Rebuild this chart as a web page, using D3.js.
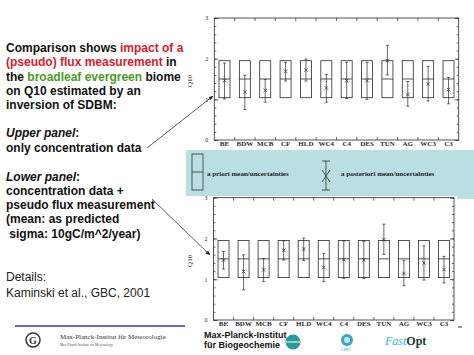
<!DOCTYPE html>
<html>
<head>
<meta charset="utf-8">
<script src="https://cdn.jsdelivr.net/npm/d3@7"></script>
<style>
  body { margin: 0; background: #fff; }
  svg { display: block; }
</style>
</head>
<body>
<div id="chart"></div>
<script>
// biome categories on the x axis
const biomes = ["BE", "BDW", "MCB", "CF", "HLD", "WC4", "C4", "DES", "TUN", "AG", "WC3", "C3"];

// a priori Q10 (same for every biome)
const priorMean = [1.5, 1.5, 1.5, 1.5, 1.5, 1.5, 1.5, 1.5, 1.5, 1.5, 1.5, 1.5];
const priorLo   = [1.04, 1.04, 1.04, 1.04, 1.04, 1.04, 1.04, 1.04, 1.04, 1.04, 1.04, 1.04];
const priorHi   = [1.95, 1.95, 1.95, 1.95, 1.95, 1.95, 1.95, 1.95, 1.95, 1.95, 1.95, 1.95];

// a posteriori, upper panel (concentration data only)
const upperMean = [1.46, 1.18, 1.22, 1.69, 1.72, 1.28, 1.46, 1.46, 1.95, 1.12, 1.38, 1.24];
const upperLo   = [1.01, 0.75, 0.93, 1.45, 1.45, 0.93, 1.02, 1.00, 1.60, 0.83, 0.96, 0.89];
const upperHi   = [1.89, 1.59, 1.49, 1.91, 1.99, 1.61, 1.91, 1.91, 2.33, 1.44, 1.81, 1.54];

// a posteriori, lower panel (with pseudo flux measurement)
const lowerMean = [1.47, 1.19, 1.23, 1.71, 1.74, 1.29, 1.48, 1.47, 1.97, 1.14, 1.40, 1.24];
const lowerLo   = [1.25, 0.74, 0.94, 1.47, 1.46, 0.94, 1.02, 1.02, 1.61, 0.84, 0.98, 0.91];
const lowerHi   = [1.68, 1.60, 1.51, 1.94, 2.01, 1.63, 1.94, 1.93, 2.35, 1.46, 1.82, 1.56];

const yTicks = [0, 1, 2, 3];
const yDomain = [0, 3];

const width = 474, height = 355;

const svg = d3.select("#chart").append("svg")
    .attr("width", width)
    .attr("height", height)
    .attr("viewBox", [0, 0, width, height]);

const ink = "#2a2a2a";
const serif = "'Liberation Serif', 'DejaVu Serif', serif";
const sans = "'Liberation Sans', Arial, sans-serif";

// legend band (light blue strip between the panels)
svg.append("rect")
    .attr("x", 186).attr("y", 150)
    .attr("width", width - 186).attr("height", 49)
    .attr("fill", "#b9dfe2");

// white background of the lower panel picture
svg.append("rect")
    .attr("x", 186).attr("y", 196)
    .attr("width", 271).attr("height", 134)
    .attr("fill", "#fff");

function drawPanel(box, mean, lo, hi) {
    const g = svg.append("g");

    const x = d3.scaleBand()
        .domain(biomes)
        .range([box.left, box.right]);

    const y = d3.scaleLinear()
        .domain(yDomain)
        .range([box.bottom, box.top]);

    // frame
    g.append("rect")
        .attr("x", box.left).attr("y", box.top)
        .attr("width", box.right - box.left)
        .attr("height", box.bottom - box.top)
        .attr("fill", "none")
        .attr("stroke", ink)
        .attr("stroke-width", 0.8);

    // minor ticks left + right
    const minor = d3.range(0, 3.001, 0.2);
    g.append("g")
        .attr("transform", `translate(${box.left},0)`)
        .call(d3.axisLeft(y).tickValues(minor).tickSize(-2).tickFormat(""))
        .call(a => a.select(".domain").remove());
    g.append("g")
        .attr("transform", `translate(${box.right},0)`)
        .call(d3.axisRight(y).tickValues(minor).tickSize(-2).tickFormat(""))
        .call(a => a.select(".domain").remove());

    // major ticks + labels
    g.append("g")
        .attr("transform", `translate(${box.left},0)`)
        .call(d3.axisLeft(y).tickValues(yTicks).tickSize(-4).tickPadding(6).tickFormat(d3.format("d")))
        .call(a => a.select(".domain").remove())
        .call(a => a.selectAll("text").attr("font-family", serif).attr("font-size", 6).attr("fill", ink));
    g.append("g")
        .attr("transform", `translate(${box.right},0)`)
        .call(d3.axisRight(y).tickValues(yTicks).tickSize(-4).tickFormat(""))
        .call(a => a.select(".domain").remove());

    g.selectAll(".tick line").attr("stroke", ink).attr("stroke-width", 0.7);

    // x ticks at band boundaries (top and bottom, inward)
    const bounds = biomes.slice(1).map(d => x(d));
    g.selectAll(".xt-b").data(bounds).join("line")
        .attr("x1", d => d).attr("x2", d => d)
        .attr("y1", box.bottom).attr("y2", box.bottom - 3)
        .attr("stroke", ink).attr("stroke-width", 0.7);
    g.selectAll(".xt-t").data(bounds).join("line")
        .attr("x1", d => d).attr("x2", d => d)
        .attr("y1", box.top).attr("y2", box.top + 3)
        .attr("stroke", ink).attr("stroke-width", 0.7);

    // x labels
    g.append("g")
        .attr("transform", `translate(0,${box.bottom})`)
        .call(d3.axisBottom(x).tickSize(0).tickPadding(1.5))
        .call(a => a.select(".domain").remove())
        .call(a => a.selectAll("text")
            .attr("font-family", serif).attr("font-size", 7)
            .attr("font-weight", "bold").attr("fill", ink));

    // Q10 label
    g.append("text")
        .attr("transform", `translate(${box.left - 22},${(box.top + box.bottom) / 2 + 2}) rotate(-90)`)
        .attr("text-anchor", "middle")
        .attr("font-family", serif).attr("font-size", 7)
        .attr("fill", ink)
        .text("Q10");

    const bw = 11;
    const rows = biomes.map((b, i) => ({b, pm: priorMean[i], plo: priorLo[i], phi: priorHi[i],
        m: mean[i], lo: lo[i], hi: hi[i]}));

    const item = g.selectAll(".biome").data(rows).join("g")
        .attr("class", "biome")
        .attr("transform", d => `translate(${x(d.b) + x.bandwidth() / 2},0)`);

    // a priori boxes
    item.append("rect")
        .attr("x", -bw / 2).attr("width", bw)
        .attr("y", d => y(d.phi))
        .attr("height", d => y(d.plo) - y(d.phi))
        .attr("fill", "none").attr("stroke", ink).attr("stroke-width", 0.8);
    item.append("line")
        .attr("x1", -bw / 2).attr("x2", bw / 2)
        .attr("y1", d => y(d.pm)).attr("y2", d => y(d.pm))
        .attr("stroke", ink).attr("stroke-width", 0.8);

    // a posteriori error bars
    item.append("line")
        .attr("y1", d => y(d.lo)).attr("y2", d => y(d.hi))
        .attr("stroke", ink).attr("stroke-width", 0.7);
    item.append("line")
        .attr("x1", -1.5).attr("x2", 1.5)
        .attr("y1", d => y(d.hi)).attr("y2", d => y(d.hi))
        .attr("stroke", ink).attr("stroke-width", 0.7);
    item.append("line")
        .attr("x1", -1.5).attr("x2", 1.5)
        .attr("y1", d => y(d.lo)).attr("y2", d => y(d.lo))
        .attr("stroke", ink).attr("stroke-width", 0.7);
    // x marker at the mean
    item.append("path")
        .attr("d", d => `M-1.8,${y(d.m) - 1.8}L1.8,${y(d.m) + 1.8}M-1.8,${y(d.m) + 1.8}L1.8,${y(d.m) - 1.8}`)
        .attr("stroke", ink).attr("stroke-width", 0.7);
}

drawPanel({left: 214.3, right: 458.7, top: 18, bottom: 140}, upperMean, upperLo, upperHi);
drawPanel({left: 213.5, right: 454, top: 197.7, bottom: 320}, lowerMean, lowerLo, lowerHi);

// small dash after the lower labels
svg.append("line")
    .attr("x1", 458).attr("x2", 462).attr("y1", 327).attr("y2", 327)
    .attr("stroke", ink).attr("stroke-width", 1);

// legend contents
const lg = svg.append("g");
lg.append("rect").attr("x", 192).attr("y", 154).attr("width", 11).attr("height", 36)
    .attr("fill", "none").attr("stroke", "#333").attr("stroke-width", 0.8);
lg.append("line").attr("x1", 192).attr("x2", 203).attr("y1", 172).attr("y2", 172)
    .attr("stroke", "#333").attr("stroke-width", 0.8);
lg.append("text").attr("x", 207).attr("y", 175.5)
    .attr("font-family", serif).attr("font-size", 7).attr("font-weight", "bold")
    .attr("fill", "#222").text("a priori mean/uncertainties");
lg.append("path")
    .attr("d", "M326,161V190M322,161H330M322,190H330M322,170L330,182M322,182L330,170")
    .attr("fill", "none").attr("stroke", "#333").attr("stroke-width", 0.8);
lg.append("text").attr("x", 341).attr("y", 175.5)
    .attr("font-family", serif).attr("font-size", 7).attr("font-weight", "bold")
    .attr("fill", "#222").text("a posteriori mean/uncertainties");

// left hand text block
const red = "#d4202f", green = "#4c9a2a";
const tx = svg.append("text")
    .attr("font-family", sans).attr("font-size", 12).attr("font-weight", "bold").attr("fill", "#111");

const lines = [
    {y: 52, parts: [["Comparison shows ", null], ["impact of a", red]]},
    {y: 66, parts: [["(pseudo) flux measurement", red], [" in", null]]},
    {y: 81, parts: [["the ", null], ["broadleaf evergreen", green], [" biome", null]]},
    {y: 95, parts: [["on Q10 estimated by an", null]]},
    {y: 109, parts: [["inversion of SDBM:", null]]},
    {y: 152, parts: [["only concentration data", null]]},
    {y: 195, parts: [["concentration data +", null]]},
    {y: 209, parts: [["pseudo flux measurement", null]]},
    {y: 223, parts: [["(mean: as predicted", null]]},
    {y: 238, parts: [[" sigma: 10gC/m^2/year)", null]]}
];
lines.forEach(l => {
    l.parts.forEach((p, i) => {
        const s = tx.append("tspan").text(p[0]);
        if (i === 0) s.attr("x", 6).attr("y", l.y);
        if (p[1]) s.attr("fill", p[1]);
    });
});
[["Upper panel", 137], ["Lower panel", 181]].forEach(([t, yy]) => {
    const tt = svg.append("text").attr("x", 6).attr("y", yy)
        .attr("font-family", sans).attr("font-size", 12).attr("font-weight", "bold").attr("fill", "#111");
    tt.append("tspan").attr("font-style", "italic").text(t);
    tt.append("tspan").text(":");
});
svg.append("text").attr("x", 6).attr("y", 281)
    .attr("font-family", sans).attr("font-size", 12).attr("fill", "#222").text("Details:");
svg.append("text").attr("x", 6).attr("y", 297)
    .attr("font-family", sans).attr("font-size", 12).attr("fill", "#222").text("Kaminski et al., GBC,  2001");

// arrows
svg.append("defs").append("marker")
    .attr("id", "ah").attr("viewBox", "0 0 10 10").attr("refX", 9).attr("refY", 5)
    .attr("markerWidth", 6).attr("markerHeight", 6).attr("orient", "auto")
    .append("path").attr("d", "M0,1L10,5L0,9Z").attr("fill", "#222");
svg.append("line").attr("x1", 147).attr("y1", 148).attr("x2", 213).attr("y2", 96)
    .attr("stroke", "#333").attr("stroke-width", 0.8).attr("marker-end", "url(#ah)");
svg.append("line").attr("x1", 152).attr("y1", 199).attr("x2", 210).attr("y2", 255)
    .attr("stroke", "#333").attr("stroke-width", 0.8).attr("marker-end", "url(#ah)");

// footer
svg.append("line").attr("x1", 15).attr("x2", 185).attr("y1", 326).attr("y2", 326)
    .attr("stroke", "#3a3a9a").attr("stroke-width", 1.5);
svg.append("circle").attr("cx", 33).attr("cy", 340).attr("r", 7)
    .attr("fill", "#fff").attr("stroke", "#333").attr("stroke-width", 1.5);
svg.append("text").attr("x", 29).attr("y", 344).attr("font-family", serif)
    .attr("font-size", 10).attr("font-weight", "bold").attr("fill", "#333").text("G");
svg.append("text").attr("x", 60).attr("y", 339).attr("font-family", serif)
    .attr("font-size", 7).attr("fill", "#333").text("Max-Planck-Institut für Meteorologie");
svg.append("text").attr("x", 60).attr("y", 346).attr("font-family", serif)
    .attr("font-size", 3.5).attr("fill", "#555").text("Max Planck Institute for Meteorology");

svg.append("text").attr("x", 204).attr("y", 338).attr("font-family", sans)
    .attr("font-size", 9).attr("font-weight", "bold").attr("fill", "#111").text("Max-Planck-Institut");
svg.append("text").attr("x", 204).attr("y", 348).attr("font-family", sans)
    .attr("font-size", 9).attr("font-weight", "bold").attr("fill", "#111").text("für Biogeochemie");
svg.append("circle").attr("cx", 293).attr("cy", 342).attr("r", 7.5).attr("fill", "#2b9a9a");
svg.append("path").attr("d", "M286,342H300").attr("stroke", "#fff").attr("stroke-width", 1);
svg.append("circle").attr("cx", 347).attr("cy", 340).attr("r", 6).attr("fill", "#3aa6c6");
svg.append("circle").attr("cx", 347).attr("cy", 340).attr("r", 3).attr("fill", "#bfe6f0");
svg.append("text").attr("x", 341).attr("y", 351).attr("font-family", sans)
    .attr("font-size", 3).attr("fill", "#3aa6c6").text("CSIRO");

const fo = svg.append("text").attr("x", 385).attr("y", 345)
    .attr("font-family", serif).attr("font-size", 12);
fo.append("tspan").attr("font-style", "italic").attr("fill", "#23b8d8").text("Fast");
fo.append("tspan").attr("font-weight", "bold").attr("fill", "#1a3a3a").text("Opt");
</script>
</body>
</html>
